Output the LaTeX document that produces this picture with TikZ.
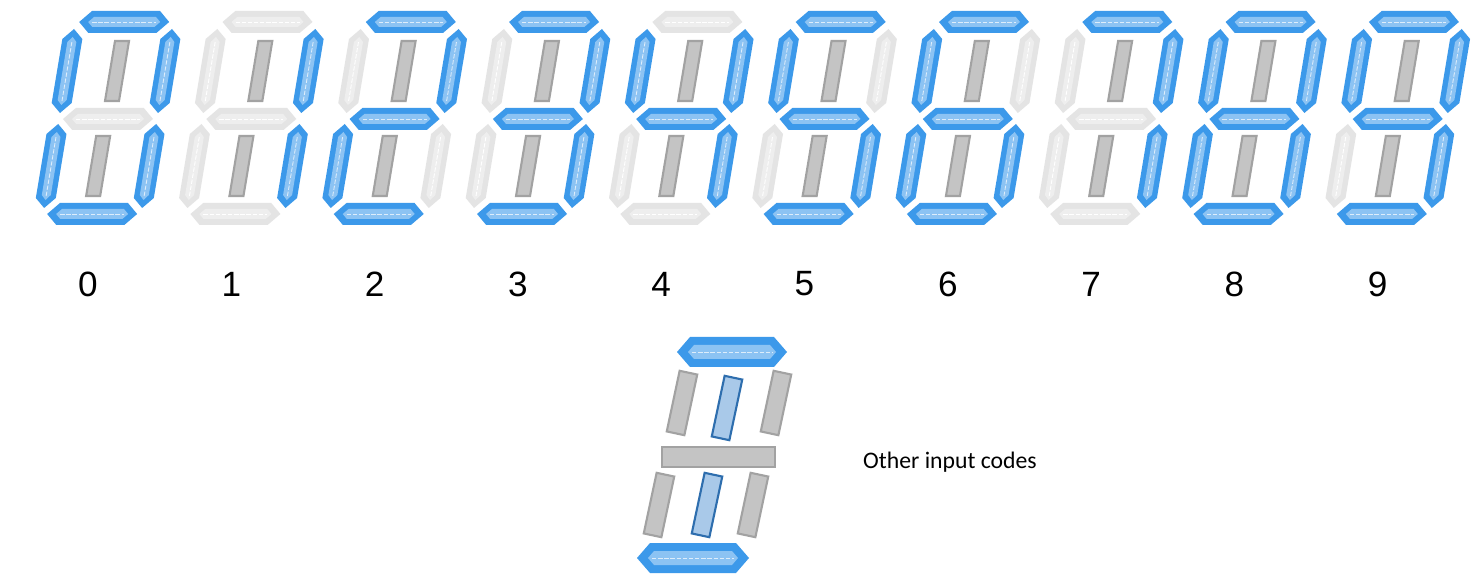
\documentclass[tikz,border=0pt]{standalone}
\usepackage{fontspec}
\setmainfont{Liberation Sans}
\newfontfamily\calfont{Carlito}
\definecolor{segblue}{HTML}{3C99EA}
\definecolor{seginb}{HTML}{8CC3F3}
\definecolor{segoff}{HTML}{E4E4E4}
\definecolor{seginoff}{HTML}{EEEEEE}
\definecolor{rfill}{HTML}{C4C4C4}
\definecolor{rdraw}{HTML}{A2A2A2}
\definecolor{bfill}{HTML}{A9C9E9}
\definecolor{bdraw}{HTML}{2E6EAE}
\tikzset{
  s1/.style={fill=segblue}, s0/.style={fill=segoff},
  i1/.style={fill=seginb}, i0/.style={fill=seginoff},
  l1/.style={draw=white!70!seginb, line width=0.5pt, dash pattern=on 2.5pt off 1pt},
  l0/.style={draw=white, line width=0.5pt, dash pattern=on 2.5pt off 1pt},
  grayrect/.style={fill=rfill, draw=rdraw, line width=1.2pt},
  bluerect/.style={fill=bfill, draw=bdraw, line width=1.2pt},
  numlabel/.style={font=\fontsize{20}{24}\selectfont, anchor=center},
}
\newcommand\hsegm[2]{\begin{scope}[shift={(#1)}]
  \path[s#2] (-45,0) -- (-34,11) -- (34,11) -- (45,0) -- (34,-11) -- (-34,-11) -- cycle;
  \path[i#2] (-36,0) -- (-31,5) -- (31,5) -- (36,0) -- (31,-5) -- (-31,-5) -- cycle;
  \path[l#2] (-32,0) -- (32,0);
\end{scope}}
\newcommand\vsegm[2]{\begin{scope}[shift={(#1)}]
  \path[s#2] (0,-42) -- (10,-32) -- (10,32) -- (0,42) -- (-10,32) -- (-10,-32) -- cycle;
  \path[i#2] (0,-34) -- (4.5,-29) -- (4.5,29) -- (0,34) -- (-4.5,29) -- (-4.5,-29) -- cycle;
  \path[l#2] (0,-30) -- (0,30);
\end{scope}}
\begin{document}
\begin{tikzpicture}[x=0.02cm,y=0.02cm]
\useasboundingbox (0,0) rectangle (1477,-587);
\fill[white] (0,0) rectangle (1477,-587);
\foreach \i/\a/\b/\c/\d/\e/\f/\g in {0/1/1/1/1/1/1/0,1/0/1/1/0/0/0/0,2/1/1/0/1/1/0/1,3/1/1/1/1/0/0/1,4/0/1/1/0/0/1/1,5/1/0/1/1/0/1/1,6/1/0/1/1/1/1/1,7/1/1/1/0/0/0/0,8/1/1/1/1/1/1/1,9/1/1/1/1/0/1/1}{
  \begin{scope}[shift={(108+143.3*\i,-119)}, xslant=0.167]
    \hsegm{0,97}{\a}
    \vsegm{49,48}{\b}
    \vsegm{49,-47}{\c}
    \hsegm{0,-95}{\d}
    \vsegm{-49,-47}{\e}
    \vsegm{-49,48}{\f}
    \hsegm{0,0}{\g}
    \draw[grayrect] (-6,18) rectangle (8,78);
    \draw[grayrect] (-9,-77) rectangle (5,-17);
  \end{scope}
  \node[numlabel] (n\i) at (88+143.3*\i,-284) {\i};
}
% bottom figure
\begin{scope}[shift={(732,-352)}]
  \path[s1] (-55,0) -- (-42,15) -- (42,15) -- (55,0) -- (42,-15) -- (-42,-15) -- cycle;
  \path[i1] (-44,0) -- (-38,7) -- (38,7) -- (44,0) -- (38,-7) -- (-38,-7) -- cycle;
  \path[l1] (-40,0) -- (40,0);
\end{scope}
\begin{scope}[shift={(693,-558)}]
  \path[s1] (-56,0) -- (-43,15) -- (43,15) -- (56,0) -- (43,-15) -- (-43,-15) -- cycle;
  \path[i1] (-45,0) -- (-39,7) -- (39,7) -- (45,0) -- (39,-7) -- (-39,-7) -- cycle;
  \path[l1] (-41,0) -- (41,0);
\end{scope}
\draw[grayrect] (662,-447) rectangle (775,-467);
\foreach \x/\y/\st in {682/403/grayrect,727/408/bluerect,776/403/grayrect,659/505/grayrect,707/505/bluerect,753/505/grayrect}{
  \begin{scope}[shift={(\x,-\y)}, rotate=-12]
    \draw[\st] (-9,-31) rectangle (9,31);
  \end{scope}
}
\node[font=\calfont\fontsize{13.5}{16}\selectfont, anchor=west] (other) at (857,-462) {Other input codes};
\end{tikzpicture}
\end{document}
